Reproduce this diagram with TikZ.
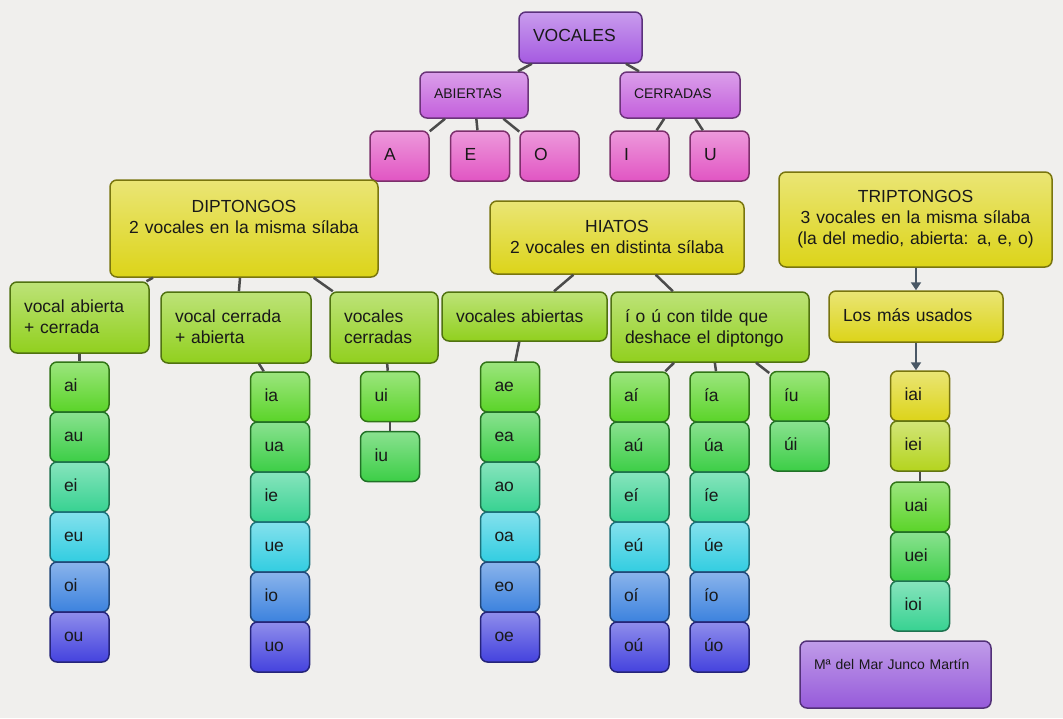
\documentclass[tikz,border=0pt]{standalone}
\usepackage{fontspec}
\setmainfont{Liberation Sans}
\usetikzlibrary{arrows.meta}
\definecolor{fondo}{RGB}{240,239,237}
\definecolor{violeta}{RGB}{165,90,225}
\definecolor{lila}{RGB}{195,95,220}
\definecolor{rosa}{RGB}{225,85,195}
\definecolor{amarillo}{RGB}{220,212,25}
\definecolor{lima}{RGB}{145,208,30}
\definecolor{amarverde}{RGB}{180,212,30}
\definecolor{verdeA}{RGB}{90,212,40}
\definecolor{verdeB}{RGB}{60,206,70}
\definecolor{menta}{RGB}{55,210,145}
\definecolor{cian}{RGB}{50,205,225}
\definecolor{azul}{RGB}{60,130,222}
\definecolor{indigo}{RGB}{68,66,222}
\definecolor{morado}{RGB}{150,90,218}
\definecolor{linea}{RGB}{75,75,75}
\definecolor{flecha}{RGB}{74,88,102}
\begin{document}
\begin{tikzpicture}[x=1pt,y=-1pt,
  caja/.style={rounded corners=7pt, draw=#1!55!black, line width=1.5pt,
    top color=#1!60!white, bottom color=#1, inner xsep=14pt, inner ysep=0pt,
    align=left, text=black!90, font=\fontsize{17.5}{21}\selectfont},
  celda/.style={caja=#1, text width=31pt, text height=29.5pt, text depth=20.5pt},
  rama/.style={linea, line width=2.5pt},
  guia/.style={flecha, line width=2pt, -{Triangle[length=8pt,width=10pt]}}]
% Fondo
\fill[fondo] (0,0) rectangle (1063,718);
\useasboundingbox (0,0) rectangle (1063,718);
% Vocales
\node[caja=violeta, text width=95pt, text height=29.3pt, text depth=21.7pt] (vocales) at (580.5,37.5) {VOCALES};
\node[caja=lila, font=\fontsize{14}{17}\selectfont, text width=80pt, text height=26pt, text depth=20pt] (abiertas) at (474,95) {ABIERTAS};
\node[caja=lila, font=\fontsize{14}{17}\selectfont, text width=92pt, text height=26pt, text depth=20pt] (cerradas) at (680,95) {CERRADAS};
\node[celda=rosa] (a) at (399.5,156) {A};
\node[celda=rosa] (e) at (480,156) {E};
\node[celda=rosa] (o) at (549.5,156) {O};
\node[celda=rosa] (i) at (639.5,156) {I};
\node[celda=rosa] (u) at (719.5,156) {U};
% Diptongos
\node[caja=amarillo, align=center, text width=240pt, text height=32.3pt, text depth=64.7pt] (dip) at (244,228.5) {DIPTONGOS\\2 vocales en la misma sílaba};
\node[caja=lima, text width=111pt, text height=30pt, text depth=41pt] (vab) at (79.5,317.5) {vocal abierta\\+ cerrada};
\node[caja=lima, text width=122pt, text height=30pt, text depth=41pt] (vce) at (236,327.5) {vocal cerrada\\+ abierta};
\node[caja=lima, text width=80pt, text height=30pt, text depth=41pt] (vcc) at (384,327.5) {vocales\\cerradas};
\node[celda=verdeA] (ai) at (79.5,387) {ai};
\node[celda=verdeB] (au) at (79.5,437) {au};
\node[celda=menta] (ei) at (79.5,487) {ei};
\node[celda=cian] (eu) at (79.5,537) {eu};
\node[celda=azul] (oi) at (79.5,587) {oi};
\node[celda=indigo] (ou) at (79.5,637) {ou};
\node[celda=verdeA] (ia) at (280,397) {ia};
\node[celda=verdeB] (ua) at (280,447) {ua};
\node[celda=menta] (ie) at (280,497) {ie};
\node[celda=cian] (ue) at (280,547) {ue};
\node[celda=azul] (io) at (280,597) {io};
\node[celda=indigo] (uo) at (280,647) {uo};
\node[celda=verdeA] (ui) at (390,396.5) {ui};
\node[celda=verdeB] (iu) at (390,456.5) {iu};
% Hiatos
\node[caja=amarillo, align=center, text width=226pt, text height=31.3pt, text depth=41.7pt] (hia) at (617,237.5) {HIATOS\\2 vocales en distinta sílaba};
\node[caja=lima, text width=137pt, text height=30pt, text depth=19pt] (vaa) at (524.5,316.5) {vocales abiertas};
\node[caja=lima, text width=170pt, text height=30pt, text depth=40pt] (til) at (710,327) {í o ú con tilde que\\deshace el diptongo};
\node[celda=verdeA] (ae) at (510,387) {ae};
\node[celda=verdeB] (ea) at (510,437) {ea};
\node[celda=menta] (ao) at (510,487) {ao};
\node[celda=cian] (oa) at (510,537) {oa};
\node[celda=azul] (eo) at (510,587) {eo};
\node[celda=indigo] (oe) at (510,637) {oe};
\node[celda=verdeA] (ait) at (639.5,397) {aí};
\node[celda=verdeB] (aut) at (639.5,447) {aú};
\node[celda=menta] (eit) at (639.5,497) {eí};
\node[celda=cian] (eut) at (639.5,547) {eú};
\node[celda=azul] (oit) at (639.5,597) {oí};
\node[celda=indigo] (out) at (639.5,647) {oú};
\node[celda=verdeA] (iat) at (719.5,397) {ía};
\node[celda=verdeB] (uat) at (719.5,447) {úa};
\node[celda=menta] (iet) at (719.5,497) {íe};
\node[celda=cian] (uet) at (719.5,547) {úe};
\node[celda=azul] (iot) at (719.5,597) {ío};
\node[celda=indigo] (uot) at (719.5,647) {úo};
\node[celda=verdeA] (iut) at (799.5,396.5) {íu};
\node[celda=verdeB] (uit) at (799.5,446) {úi};
% Triptongos
\node[caja=amarillo, align=center, text width=245pt, text height=30.3pt, text depth=64.7pt] (tri) at (915.5,219.5) {TRIPTONGOS\\3 vocales en la misma sílaba\\(la del medio, abierta: a, e, o)};
\node[caja=amarillo, text width=146pt, text height=30.7pt, text depth=20.3pt] (usa) at (916,316.5) {Los más usados};
\node[celda=amarillo] (iai) at (920,396) {iai};
\node[celda=amarverde] (iei) at (920,446) {iei};
\node[celda=verdeA] (uai) at (920,507) {uai};
\node[celda=verdeB] (uei) at (920,557) {uei};
\node[celda=menta] (ioi) at (920,606) {ioi};
% Autora
\node[caja=morado, font=\fontsize{14}{17}\selectfont, text width=163pt, text height=28pt, text depth=39pt] (autora) at (895.5,674.5) {Mª del Mar Junco Martín};
% Ramas
\draw[rama] (vocales) -- (abiertas);
\draw[rama] (vocales) -- (cerradas);
\draw[rama] (abiertas) -- (a);
\draw[rama] (abiertas) -- (e);
\draw[rama] (abiertas) -- (o);
\draw[rama] (cerradas) -- (i);
\draw[rama] (cerradas) -- (u);
\draw[rama] (dip) -- (vab);
\draw[rama] (dip) -- (vce);
\draw[rama] (dip) -- (vcc);
\draw[rama] (vab) -- (ai);
\draw[rama] (vce) -- (ia);
\draw[rama] (vcc) -- (ui);
\draw[rama] (ui) -- (iu);
\draw[rama] (hia) -- (vaa);
\draw[rama] (hia) -- (til);
\draw[rama] (vaa) -- (ae);
\draw[rama] (til) -- (ait);
\draw[rama] (til) -- (iat);
\draw[rama] (til) -- (iut);
\draw[rama] (iei) -- (uai);
% Flechas
\draw[guia] (tri.south -| usa.north) -- (usa.north);
\draw[guia] (usa.south) -- (usa.south |- iai.north);
\end{tikzpicture}
\end{document}
